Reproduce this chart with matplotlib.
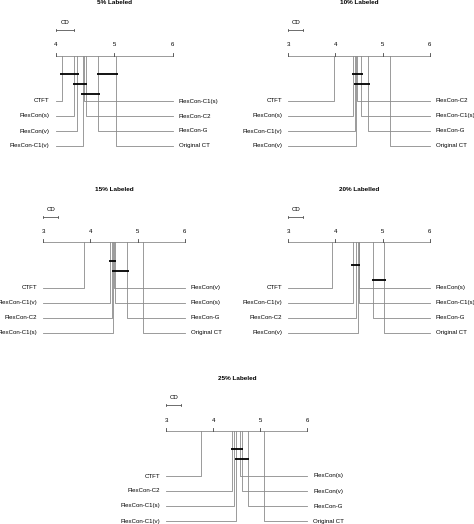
import matplotlib
matplotlib.use("Agg")
import matplotlib.pyplot as plt

W, H = 474, 524
plt.rcParams['font.family'] = ['Liberation Sans', 'DejaVu Sans']

# ---- data: average ranks per labelled proportion ----
titles = ["5% Labeled", "10% Labeled", "15% Labeled", "20% Labelled", "25% Labeled"]

names1 = ["CTFT", "FlexCon(s)", "FlexCon(v)", "FlexCon-C1(v)",
          "FlexCon-C1(s)", "FlexCon-C2", "FlexCon-G", "Original CT"]
ranks1 = [4.11, 4.32, 4.36, 4.47, 4.49, 4.51, 4.73, 5.03]
cliques1 = [("CTFT", "FlexCon(v)"), ("FlexCon(s)", "FlexCon-C2"),
            ("FlexCon-C1(v)", "FlexCon-G"), ("FlexCon-G", "Original CT")]

names2 = ["CTFT", "FlexCon(s)", "FlexCon-C1(v)", "FlexCon(v)",
          "FlexCon-C2", "FlexCon-C1(s)", "FlexCon-G", "Original CT"]
ranks2 = [3.97, 4.38, 4.42, 4.44, 4.46, 4.55, 4.70, 5.16]
cliques2 = [("FlexCon(s)", "FlexCon-C1(s)"), ("FlexCon-C1(v)", "FlexCon-G")]

names3 = ["CTFT", "FlexCon-C1(v)", "FlexCon-C2", "FlexCon-C1(s)",
          "FlexCon(v)", "FlexCon(s)", "FlexCon-G", "Original CT"]
ranks3 = [3.87, 4.42, 4.46, 4.48, 4.50, 4.52, 4.78, 5.11]
cliques3 = [("FlexCon-C1(v)", "FlexCon(s)"), ("FlexCon-C1(s)", "FlexCon-G")]

names4 = ["CTFT", "FlexCon-C1(v)", "FlexCon-C2", "FlexCon(v)",
          "FlexCon(s)", "FlexCon-C1(s)", "FlexCon-G", "Original CT"]
ranks4 = [3.93, 4.37, 4.44, 4.48, 4.49, 4.50, 4.80, 5.04]
cliques4 = [("FlexCon-C1(v)", "FlexCon-C1(s)"), ("FlexCon-G", "Original CT")]

names5 = ["CTFT", "FlexCon-C2", "FlexCon-C1(s)", "FlexCon-C1(v)",
          "FlexCon(s)", "FlexCon(v)", "FlexCon-G", "Original CT"]
ranks5 = [3.73, 4.40, 4.43, 4.49, 4.57, 4.61, 4.74, 5.07]
cliques5 = [("FlexCon-C2", "FlexCon(v)"), ("FlexCon-C1(v)", "FlexCon-G")]

cd = 0.32
axis_lo = [4, 3, 3, 3, 3]
axis_hi = [6, 6, 6, 6, 6]

# ---- layout (pixels) ----
panel_x = [(55.7, 172.7), (288.3, 429.7), (43.3, 184.7), (288.3, 429.7), (166.3, 307.3)]
panel_y = [55.5, 55.5, 242.3, 242.3, 430.5]
bar_levels = [[18.5, 28.5, 38.5, 18.5], [18, 28], [18.5, 29], [22.5, 37.5], [18, 28]]

all_names = [names1, names2, names3, names4, names5]
all_ranks = [ranks1, ranks2, ranks3, ranks4, ranks5]
all_cliques = [cliques1, cliques2, cliques3, cliques4, cliques5]

fs = 4.4
gray = "#8a8a8a"
fig = plt.figure(figsize=(W / 100, H / 100), dpi=100)

for p in range(5):
    x0, x1 = panel_x[p]
    ay = panel_y[p]
    ax = fig.add_axes([x0 / W, 1 - (ay + 100) / H, (x1 - x0) / W, 160 / H])
    lo, hi = axis_lo[p], axis_hi[p]
    ax.set_xlim(lo, hi)
    ax.set_ylim(100, -60)
    ax.axis("off")
    kw = dict(clip_on=False)

    ax.text((lo + hi) / 2, -52.5, titles[p], ha="center", va="center",
            fontsize=fs + 0.2, fontweight="bold")
    # CD bar
    ax.plot([lo, lo + cd], [-25.5, -25.5], color="#555555", lw=0.6, **kw)
    for e in (lo, lo + cd):
        ax.plot([e, e], [-26.7, -24.3], color="#555555", lw=0.6, **kw)
    ax.text(lo + cd / 2, -33, "CD", ha="center", va="center", fontsize=fs)

    # main axis
    ax.plot([lo, hi], [0, 0], color=gray, lw=0.6, **kw)
    for t in range(lo, hi + 1):
        ax.plot([t, t], [0, -3], color="#444444", lw=0.6, **kw)
        ax.text(t, -10.5, str(t), ha="center", va="center", fontsize=fs)

    names, ranks = all_names[p], all_ranks[p]
    order = sorted(range(len(ranks)), key=lambda i: ranks[i])
    half = len(order) // 2
    for k, i in enumerate(order):
        r = ranks[i]
        if k < half:
            row = 45.5 + 15 * k
            ax.plot([r, r, lo], [0, row, row], color=gray, lw=0.6, **kw)
            ax.annotate(names[i], (lo, row), xytext=(-4.3, 0), textcoords="offset points",
                        ha="right", va="center", fontsize=fs, annotation_clip=False)
        else:
            row = 45.5 + 15 * (k - half)
            ax.plot([r, r, hi], [0, row, row], color=gray, lw=0.6, **kw)
            ax.annotate(names[i], (hi, row), xytext=(4.3, 0), textcoords="offset points",
                        ha="left", va="center", fontsize=fs, annotation_clip=False)

    for (a, b), lev in zip(all_cliques[p], bar_levels[p]):
        ra = ranks[names.index(a)] - 0.03
        rb = ranks[names.index(b)] + 0.03
        ax.plot([ra, rb], [lev, lev], color="black", lw=1.3, solid_capstyle="butt", **kw)

fig.savefig("out.png", dpi=100)
